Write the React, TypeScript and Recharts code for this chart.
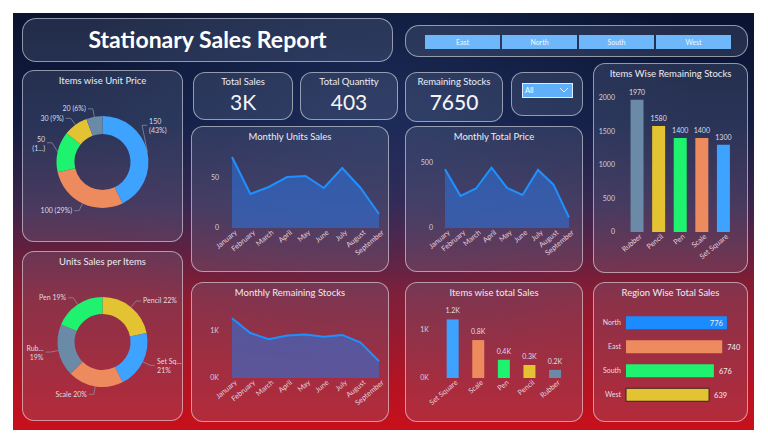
import React from "react";
import { PieChart, Pie, Cell, AreaChart, Area, BarChart, Bar, XAxis, YAxis, LabelList } from "recharts";

const FONT = "Lato, 'Open Sans', sans-serif";

// monthly series
const months = ["January", "February", "March", "April", "May", "June", "July", "August", "September"];
const monthlyUnits = [71, 34, 41, 51, 52, 40, 60, 40, 14];
const monthlyPrice = [446, 244, 300, 459, 305, 251, 441, 329, 80];
const monthlyStock = [1250, 940, 810, 890, 910, 860, 900, 740, 350];

// item level
const priceItems = ["Set Square", "Scale", "Pen", "Pencil", "Rubber"];
const unitPrice = [150, 100, 50, 30, 20];
const unitItems = ["Pencil", "Set Square", "Scale", "Rubber", "Pen"];
const unitsSold = [88, 84, 80, 76, 75];
const salesItems = ["Set Square", "Scale", "Pen", "Pencil", "Rubber"];
const itemSales = [1220, 790, 380, 270, 170];
const stockItems = ["Rubber", "Pencil", "Pen", "Scale", "Set Square"];
const itemStock = [1970, 1580, 1400, 1400, 1300];
const regions = ["North", "East", "South", "West"];
const regionSales = [776, 740, 676, 639];
const slicerRegions = ["East", "North", "South", "West"];

const kpiSales = "3K";
const kpiQuantity = "403";
const kpiStock = "7650";

const itemColors: Record<string, string> = {
  "Set Square": "#3ea2ff",
  Scale: "#ee8b5e",
  Pen: "#1ff26e",
  Pencil: "#e4c333",
  Rubber: "#6a8aa8",
};
const regionColors = ["#1a8cff", "#ee8b5e", "#1ff26e", "#e4c333"];

const rows = (labels: string[], values: number[]) => labels.map((l, i) => ({ name: l, value: values[i] }));

const Y_TICK = { fill: "#cfd0dc", fontSize: 7, fontFamily: FONT };

function AngledTick({ x, y, payload }: any) {
  return (
    <text
      x={x}
      y={y}
      transform={`rotate(-40 ${x} ${y})`}
      textAnchor="end"
      dx={2}
      dy={6}
      fill="#e6d0de"
      fontSize={7.3}
      fontFamily={FONT}
    >
      {payload.value}
    </text>
  );
}

function makePieLabel(format: (p: any) => string[], shift: number[] = []) {
  return (p: any) => {
    const RAD = Math.PI / 180;
    const a0 = p.midAngle * RAD;
    const a1 = (p.midAngle + (shift[p.index] || 0)) * RAD;
    const sx = p.cx + p.outerRadius * Math.cos(a0);
    const sy = p.cy - p.outerRadius * Math.sin(a0);
    const mx = p.cx + (p.outerRadius + 8) * Math.cos(a1);
    const my = p.cy - (p.outerRadius + 8) * Math.sin(a1);
    const right = Math.cos(a1) >= 0;
    const ex = mx + (right ? 5 : -5);
    const tx = ex + (right ? 2 : -2);
    const lines = format(p);
    return (
      <g key={`lbl-${p.index}`}>
        <polyline points={`${sx},${sy} ${mx},${my} ${ex},${my}`} fill="none" stroke="#8f96a8" strokeWidth={0.7} />
        <text x={tx} y={my} textAnchor={right ? "start" : "end"} fill="#dcdce4" fontSize={7} fontFamily={FONT}>
          {lines.map((l, i) => (
            <tspan key={i} x={tx} dy={i === 0 ? (lines.length > 1 ? -1 : 2.5) : 9}>
              {l}
            </tspan>
          ))}
        </text>
      </g>
    );
  };
}

const priceLabel = makePieLabel((p) => {
  const pct = Math.round(p.percent * 100);
  if (p.index === 0) return [`${p.value}`, `(${pct}%)`];
  if (p.index === 2) return [`${p.value}`, `(${String(pct)[0]}...)`];
  return [`${p.value} (${pct}%)`];
}, [30, 0, -8, 0, 0]);

const shortNames = ["Pencil", "Set Sq...", "Scale", "Rub...", "Pen"];
const unitsLabel = makePieLabel((p) => {
  const pct = Math.round(p.percent * 100);
  const n = shortNames[p.index];
  if (n.endsWith("...")) return [n, `${pct}%`];
  return [`${n} ${pct}%`];
});

function Box({ x, y, w, h, title, r = 12 }: any) {
  return (
    <div
      style={{
        position: "absolute",
        left: x,
        top: y,
        width: w,
        height: h,
        boxSizing: "border-box",
        border: "1px solid rgba(255,255,255,0.5)",
        borderRadius: r,
        background: "rgba(125,135,165,0.22)",
      }}
    >
      {title && (
        <div
          style={{
            position: "absolute",
            top: 4,
            left: 0,
            right: 0,
            textAlign: "center",
            fontSize: 9.5,
            color: "#ececf2",
          }}
        >
          {title}
        </div>
      )}
    </div>
  );
}

function Kpi({ x, y, w, h, label, value, weight = 400 }: any) {
  return (
    <>
      <Box x={x} y={y} w={w} h={h} />
      <div style={{ position: "absolute", left: x, top: y + 4, width: w, textAlign: "center", fontSize: 9.5, color: "#eceef4" }}>
        {label}
      </div>
      <div
        style={{ position: "absolute", left: x, top: y + 17, width: w, textAlign: "center", fontSize: 21, fontWeight: weight, color: "#f4f4f8" }}
      >
        {value}
      </div>
    </>
  );
}

const At = ({ x, y, children }: any) => <div style={{ position: "absolute", left: x, top: y }}>{children}</div>;

function MonthArea({ data, domain, ticks, fmt, width, height, margin, tickMargin }: any) {
  return (
    <AreaChart width={width} height={height} data={data} margin={margin}>
      <XAxis dataKey="name" interval={0} tick={AngledTick} axisLine={false} tickLine={false} tickSize={0} tickMargin={2} height={44} />
      <YAxis
        width={30}
        domain={domain}
        ticks={ticks}
        tickFormatter={fmt}
        axisLine={false}
        tickLine={false}
        tick={Y_TICK}
        tickMargin={tickMargin}
      />
      <Area type="linear" dataKey="value" stroke="#1e90ff" strokeWidth={2} fill="#2f6fd6" fillOpacity={0.6} isAnimationActive={false} />
    </AreaChart>
  );
}

function RegionLabel(p: any) {
  const { x, y, width, height, value } = p;
  const inside = value === Math.max(...regionSales);
  return (
    <text
      x={inside ? x + width - 4 : x + width + 5}
      y={y + height / 2}
      dy={3}
      textAnchor={inside ? "end" : "start"}
      fill="#eeeef2"
      fontSize={7.5}
      fontFamily={FONT}
    >
      {value}
    </text>
  );
}

export default function App() {
  const priceData = rows(priceItems, unitPrice);
  const unitsData = rows(unitItems, unitsSold);
  const salesData = rows(salesItems, itemSales);
  const stockData = rows(stockItems, itemStock);
  const regionData = rows(regions, regionSales);

  return (
    <div style={{ position: "fixed", left: 0, top: 0, width: 768, height: 444, background: "#fff", overflow: "hidden", fontFamily: FONT }}>
      <div
        style={{
          position: "absolute",
          left: 13,
          top: 13,
          width: 741,
          height: 417,
          background:
            "radial-gradient(ellipse at 50% 25%, rgba(40,62,115,0.45), rgba(0,0,0,0) 60%), linear-gradient(180deg, #0a1330 0%, #121c42 26%, #3a244c 46%, #8e1a30 68%, #c8101c 100%)",
        }}
      />

      {/* header */}
      <Box x={22} y={18} w={371} h={44} r={14} />
      <div style={{ position: "absolute", left: 22, top: 25, width: 371, textAlign: "center", fontSize: 23, fontWeight: 700, color: "#fff" }}>
        Stationary Sales Report
      </div>
      <Box x={405} y={25} w={343} h={32} r={14} />
      {slicerRegions.map((r, i) => (
        <div
          key={r}
          style={{
            position: "absolute",
            left: 425 + i * 77,
            top: 35,
            width: 75,
            height: 14,
            background: "#6db7fa",
            color: "#f4f8ff",
            fontSize: 7,
            lineHeight: "14px",
            textAlign: "center",
          }}
        >
          {r}
        </div>
      ))}

      {/* KPI cards */}
      <Kpi x={193} y={72} w={100} h={48} label="Total Sales" value={kpiSales} />
      <Kpi x={300} y={72} w={98} h={48} label="Total Quantity" value={kpiQuantity} />
      <Kpi x={405} y={72} w={98} h={50} label="Remaining Stocks" value={kpiStock} weight={500} />
      <Box x={511} y={72} w={72} h={44} />
      <div
        style={{
          position: "absolute",
          left: 522,
          top: 83,
          width: 51,
          height: 15,
          boxSizing: "border-box",
          border: "1px solid #dfeeff",
          background: "#5fb0f8",
          color: "#fff",
          fontSize: 7.5,
          lineHeight: "13px",
          paddingLeft: 2,
        }}
      >
        All
        <svg width={8} height={5} style={{ position: "absolute", right: 4, top: 4 }}>
          <polyline points="0,0 4,4 8,0" fill="none" stroke="#fff" strokeWidth={0.8} />
        </svg>
      </div>

      {/* panels */}
      <Box x={22} y={70} w={161} h={172} title="Items wise Unit Price" />
      <Box x={22} y={251} w={161} h={170} title="Units Sales per Items" />
      <Box x={191} y={126} w={198} h={146} title="Monthly Units Sales" />
      <Box x={405} y={126} w={178} h={146} title="Monthly Total Price" />
      <Box x={593} y={63} w={155} h={210} title="Items Wise Remaining Stocks" />
      <Box x={191} y={282} w={198} h={140} title="Monthly Remaining Stocks" />
      <Box x={405} y={282} w={178} h={140} title="Items wise total Sales" />
      <Box x={593} y={282} w={155} h={140} title="Region Wise Total Sales" />

      {/* donuts */}
      <At x={22} y={82}>
        <PieChart width={161} height={160}>
          <Pie
            data={priceData}
            dataKey="value"
            nameKey="name"
            cx="50%"
            cy="50%"
            innerRadius={28}
            outerRadius={46}
            startAngle={90}
            endAngle={-270}
            stroke="none"
            label={priceLabel}
            labelLine={false}
            isAnimationActive={false}
          >
            {priceData.map((d) => (
              <Cell key={d.name} fill={itemColors[d.name]} />
            ))}
          </Pie>
        </PieChart>
      </At>
      <At x={22} y={262}>
        <PieChart width={161} height={160}>
          <Pie
            data={unitsData}
            dataKey="value"
            nameKey="name"
            cx="50%"
            cy="50%"
            innerRadius={28}
            outerRadius={45}
            startAngle={90}
            endAngle={-270}
            stroke="none"
            label={unitsLabel}
            labelLine={false}
            isAnimationActive={false}
          >
            {unitsData.map((d) => (
              <Cell key={d.name} fill={itemColors[d.name]} />
            ))}
          </Pie>
        </PieChart>
      </At>

      {/* monthly areas */}
      <At x={191} y={126}>
        <MonthArea
          data={rows(months, monthlyUnits)}
          domain={[0, 80]}
          ticks={[0, 50]}
          width={198}
          height={146}
          margin={{ top: 22, right: 10, left: 11, bottom: 0 }}
          tickMargin={7}
        />
      </At>
      <At x={405} y={126}>
        <MonthArea
          data={rows(months, monthlyPrice)}
          domain={[0, 600]}
          ticks={[0, 500]}
          width={178}
          height={146}
          margin={{ top: 23, right: 14, left: 10, bottom: 0 }}
          tickMargin={6}
        />
      </At>
      <At x={191} y={282}>
        <MonthArea
          data={rows(months, monthlyStock)}
          domain={[0, 1400]}
          ticks={[0, 1000]}
          fmt={(v: number) => `${v / 1000}K`}
          width={198}
          height={140}
          margin={{ top: 29, right: 10, left: 11, bottom: 0 }}
          tickMargin={7}
        />
      </At>

      {/* item bars */}
      <At x={593} y={63}>
        <BarChart width={155} height={210} data={stockData} margin={{ top: 28, right: 14, left: 3, bottom: 0 }} barCategoryGap="21%">
          <XAxis dataKey="name" interval={0} tick={AngledTick} axisLine={false} tickLine={false} tickSize={0} tickMargin={2} height={41} />
          <YAxis width={30} domain={[0, 2100]} ticks={[0, 500, 1000, 1500, 2000]} axisLine={false} tickLine={false} tick={Y_TICK} tickMargin={5} />
          <Bar dataKey="value" isAnimationActive={false}>
            {stockData.map((d) => (
              <Cell key={d.name} fill={itemColors[d.name]} />
            ))}
            <LabelList dataKey="value" position="top" offset={5} fill="#dcdce4" fontSize={7} fontFamily={FONT} />
          </Bar>
        </BarChart>
      </At>
      <At x={405} y={282}>
        <BarChart width={178} height={140} data={salesData} margin={{ top: 24, right: 15, left: 5, bottom: 0 }} barCategoryGap="26%">
          <XAxis dataKey="name" interval={0} tick={AngledTick} axisLine={false} tickLine={false} tickSize={0} tickMargin={2} height={44} />
          <YAxis
            width={30}
            domain={[0, 1500]}
            ticks={[0, 1000]}
            tickFormatter={(v: number) => `${v / 1000}K`}
            axisLine={false}
            tickLine={false}
            tick={Y_TICK}
            tickMargin={5}
          />
          <Bar dataKey="value" isAnimationActive={false}>
            {salesData.map((d) => (
              <Cell key={d.name} fill={itemColors[d.name]} />
            ))}
            <LabelList
              dataKey="value"
              position="top"
              offset={6}
              formatter={(v: any) => `${(v / 1000).toFixed(1)}K`}
              fill="#dcdce4"
              fontSize={7}
              fontFamily={FONT}
            />
          </Bar>
        </BarChart>
      </At>

      {/* region bars */}
      <At x={593} y={282}>
        <BarChart
          width={155}
          height={140}
          data={regionData}
          layout="vertical"
          margin={{ top: 29, right: 18, left: 0, bottom: 15 }}
          barCategoryGap="22%"
        >
          <XAxis type="number" domain={[0, 800]} hide />
          <YAxis
            type="category"
            dataKey="name"
            width={33}
            axisLine={false}
            tickLine={false}
            tickSize={0}
            tickMargin={5}
            tick={{ fill: "#e4dce4", fontSize: 7, fontFamily: FONT }}
          />
          <Bar dataKey="value" isAnimationActive={false}>
            {regionData.map((d, i) => (
              <Cell key={d.name} fill={regionColors[i]} stroke={i === 3 ? "#3a1e22" : "none"} strokeWidth={1} />
            ))}
            <LabelList dataKey="value" content={RegionLabel} />
          </Bar>
        </BarChart>
      </At>
    </div>
  );
}
